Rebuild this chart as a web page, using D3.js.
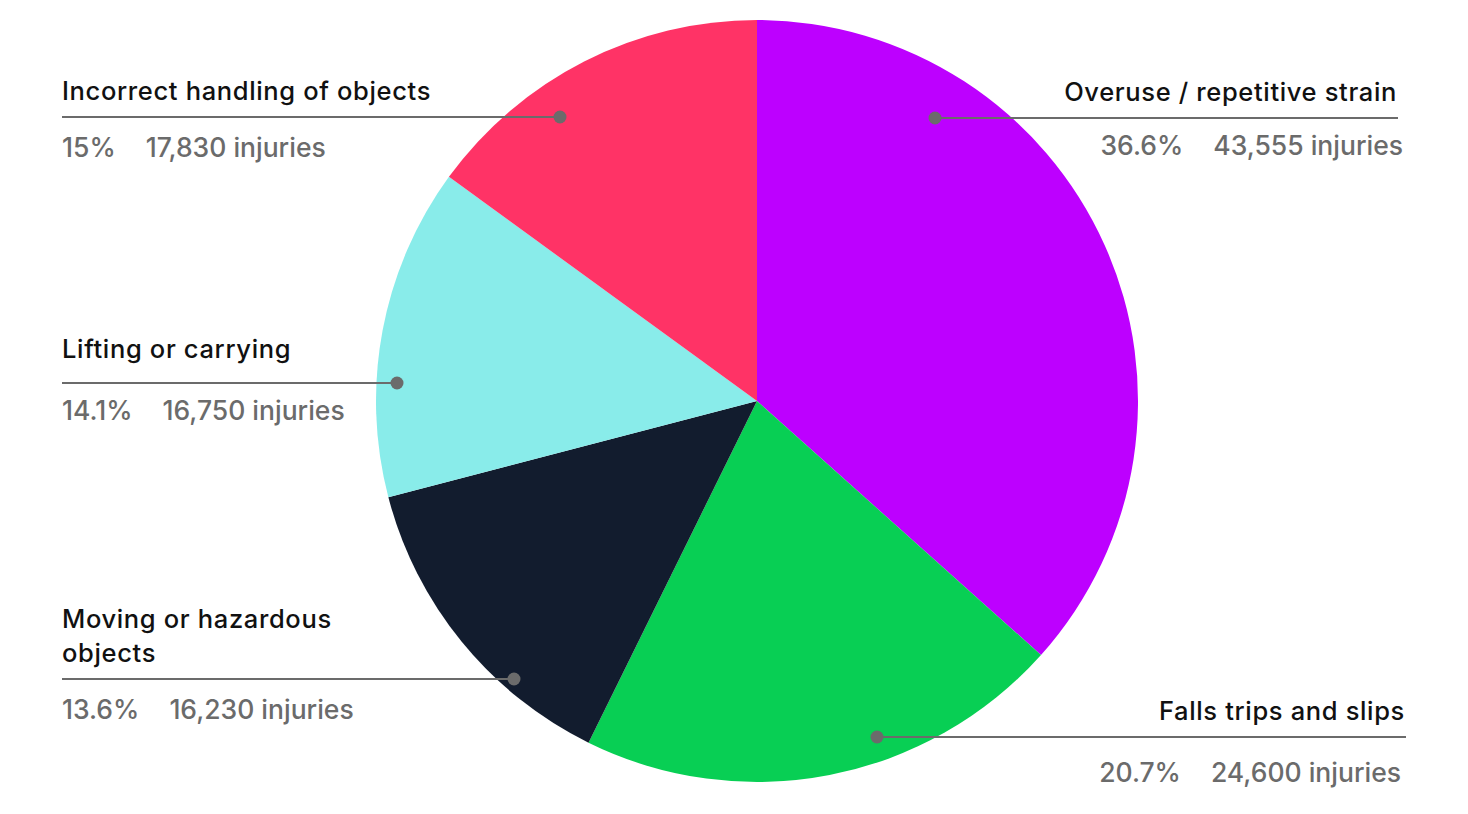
<!DOCTYPE html>
<html>
<head>
<meta charset="utf-8">
<script src="https://cdn.jsdelivr.net/npm/d3@7"></script>
<style>
  html, body { margin: 0; padding: 0; background: #fff; }
  svg { display: block; }
  text { font-family: "Inter", "Noto Sans", sans-serif; }
</style>
</head>
<body>
<svg id="chart" width="1468" height="814"></svg>
<script>
const categories = ["Overuse / repetitive strain", "Falls trips and slips", "Moving or hazardous objects", "Lifting or carrying", "Incorrect handling of objects"];
const injuries = [43555, 24600, 16230, 16750, 17830];
const percentLabels = ["36.6%", "20.7%", "13.6%", "14.1%", "15%"];
const countLabels = ["43,555 injuries", "24,600 injuries", "16,230 injuries", "16,750 injuries", "17,830 injuries"];
const colors = ["#BD00FF", "#08CF54", "#121C2E", "#89ECEA", "#FF3366"];
const titleLines = [["Overuse / repetitive strain"], ["Falls trips and slips"], ["Moving or hazardous", "objects"], ["Lifting or carrying"], ["Incorrect handling of objects"]];

// annotation layout (positions only)
const layout = [
  { side: "right", dot: [935, 118], lineEnd: 1398, titleX: 1397, titleY: 101, numX: 1403, numY: 155 },
  { side: "right", dot: [877, 737], lineEnd: 1406, titleX: 1405, titleY: 720, numX: 1401, numY: 782 },
  { side: "left", dot: [514, 679], lineEnd: 62, titleX: 62, titleY: 628, numX: 62, numY: 719 },
  { side: "left", dot: [397, 383], lineEnd: 62, titleX: 62, titleY: 358, numX: 62, numY: 420 },
  { side: "left", dot: [560, 117], lineEnd: 62, titleX: 62, titleY: 100, numX: 62, numY: 157 }
];

const svg = d3.select("#chart");
const cx = 757, cy = 401, radius = 381;

const pie = d3.pie().sort(null).value(d => d.value);
const arc = d3.arc().innerRadius(0).outerRadius(radius);
const data = categories.map((c, i) => ({ name: c, value: injuries[i], color: colors[i] }));

const g = svg.append("g").attr("transform", `translate(${cx},${cy})`);
g.selectAll("path").data(pie(data)).join("path")
  .attr("d", arc)
  .attr("fill", d => d.data.color);

const ann = svg.append("g");
data.forEach((d, i) => {
  const L = layout[i];
  ann.append("line")
    .attr("x1", L.dot[0]).attr("y1", L.dot[1])
    .attr("x2", L.lineEnd).attr("y2", L.dot[1])
    .attr("stroke", "#6b6b6b").attr("stroke-width", 2);
  ann.append("circle")
    .attr("cx", L.dot[0]).attr("cy", L.dot[1]).attr("r", 6.5)
    .attr("fill", "#6b6b6b");
  const anchor = L.side === "right" ? "end" : "start";
  const t = ann.append("text")
    .attr("x", L.titleX).attr("y", L.titleY)
    .attr("text-anchor", anchor)
    .attr("font-size", 25.5).attr("font-weight", 500)
    .attr("letter-spacing", 0.65)
    .attr("fill", "#111");
  titleLines[i].forEach((line, k) => {
    t.append("tspan").attr("x", L.titleX).attr("dy", k === 0 ? 0 : 34).text(line);
  });
  const n = ann.append("text")
    .attr("x", L.numX).attr("y", L.numY)
    .attr("text-anchor", anchor)
    .attr("font-size", 26.5).attr("font-weight", 500)
    .attr("fill", "#6b6b6b");
  n.append("tspan").text(percentLabels[i]);
  n.append("tspan").attr("dx", 30).text(countLabels[i]);
});
</script>
</body>
</html>
